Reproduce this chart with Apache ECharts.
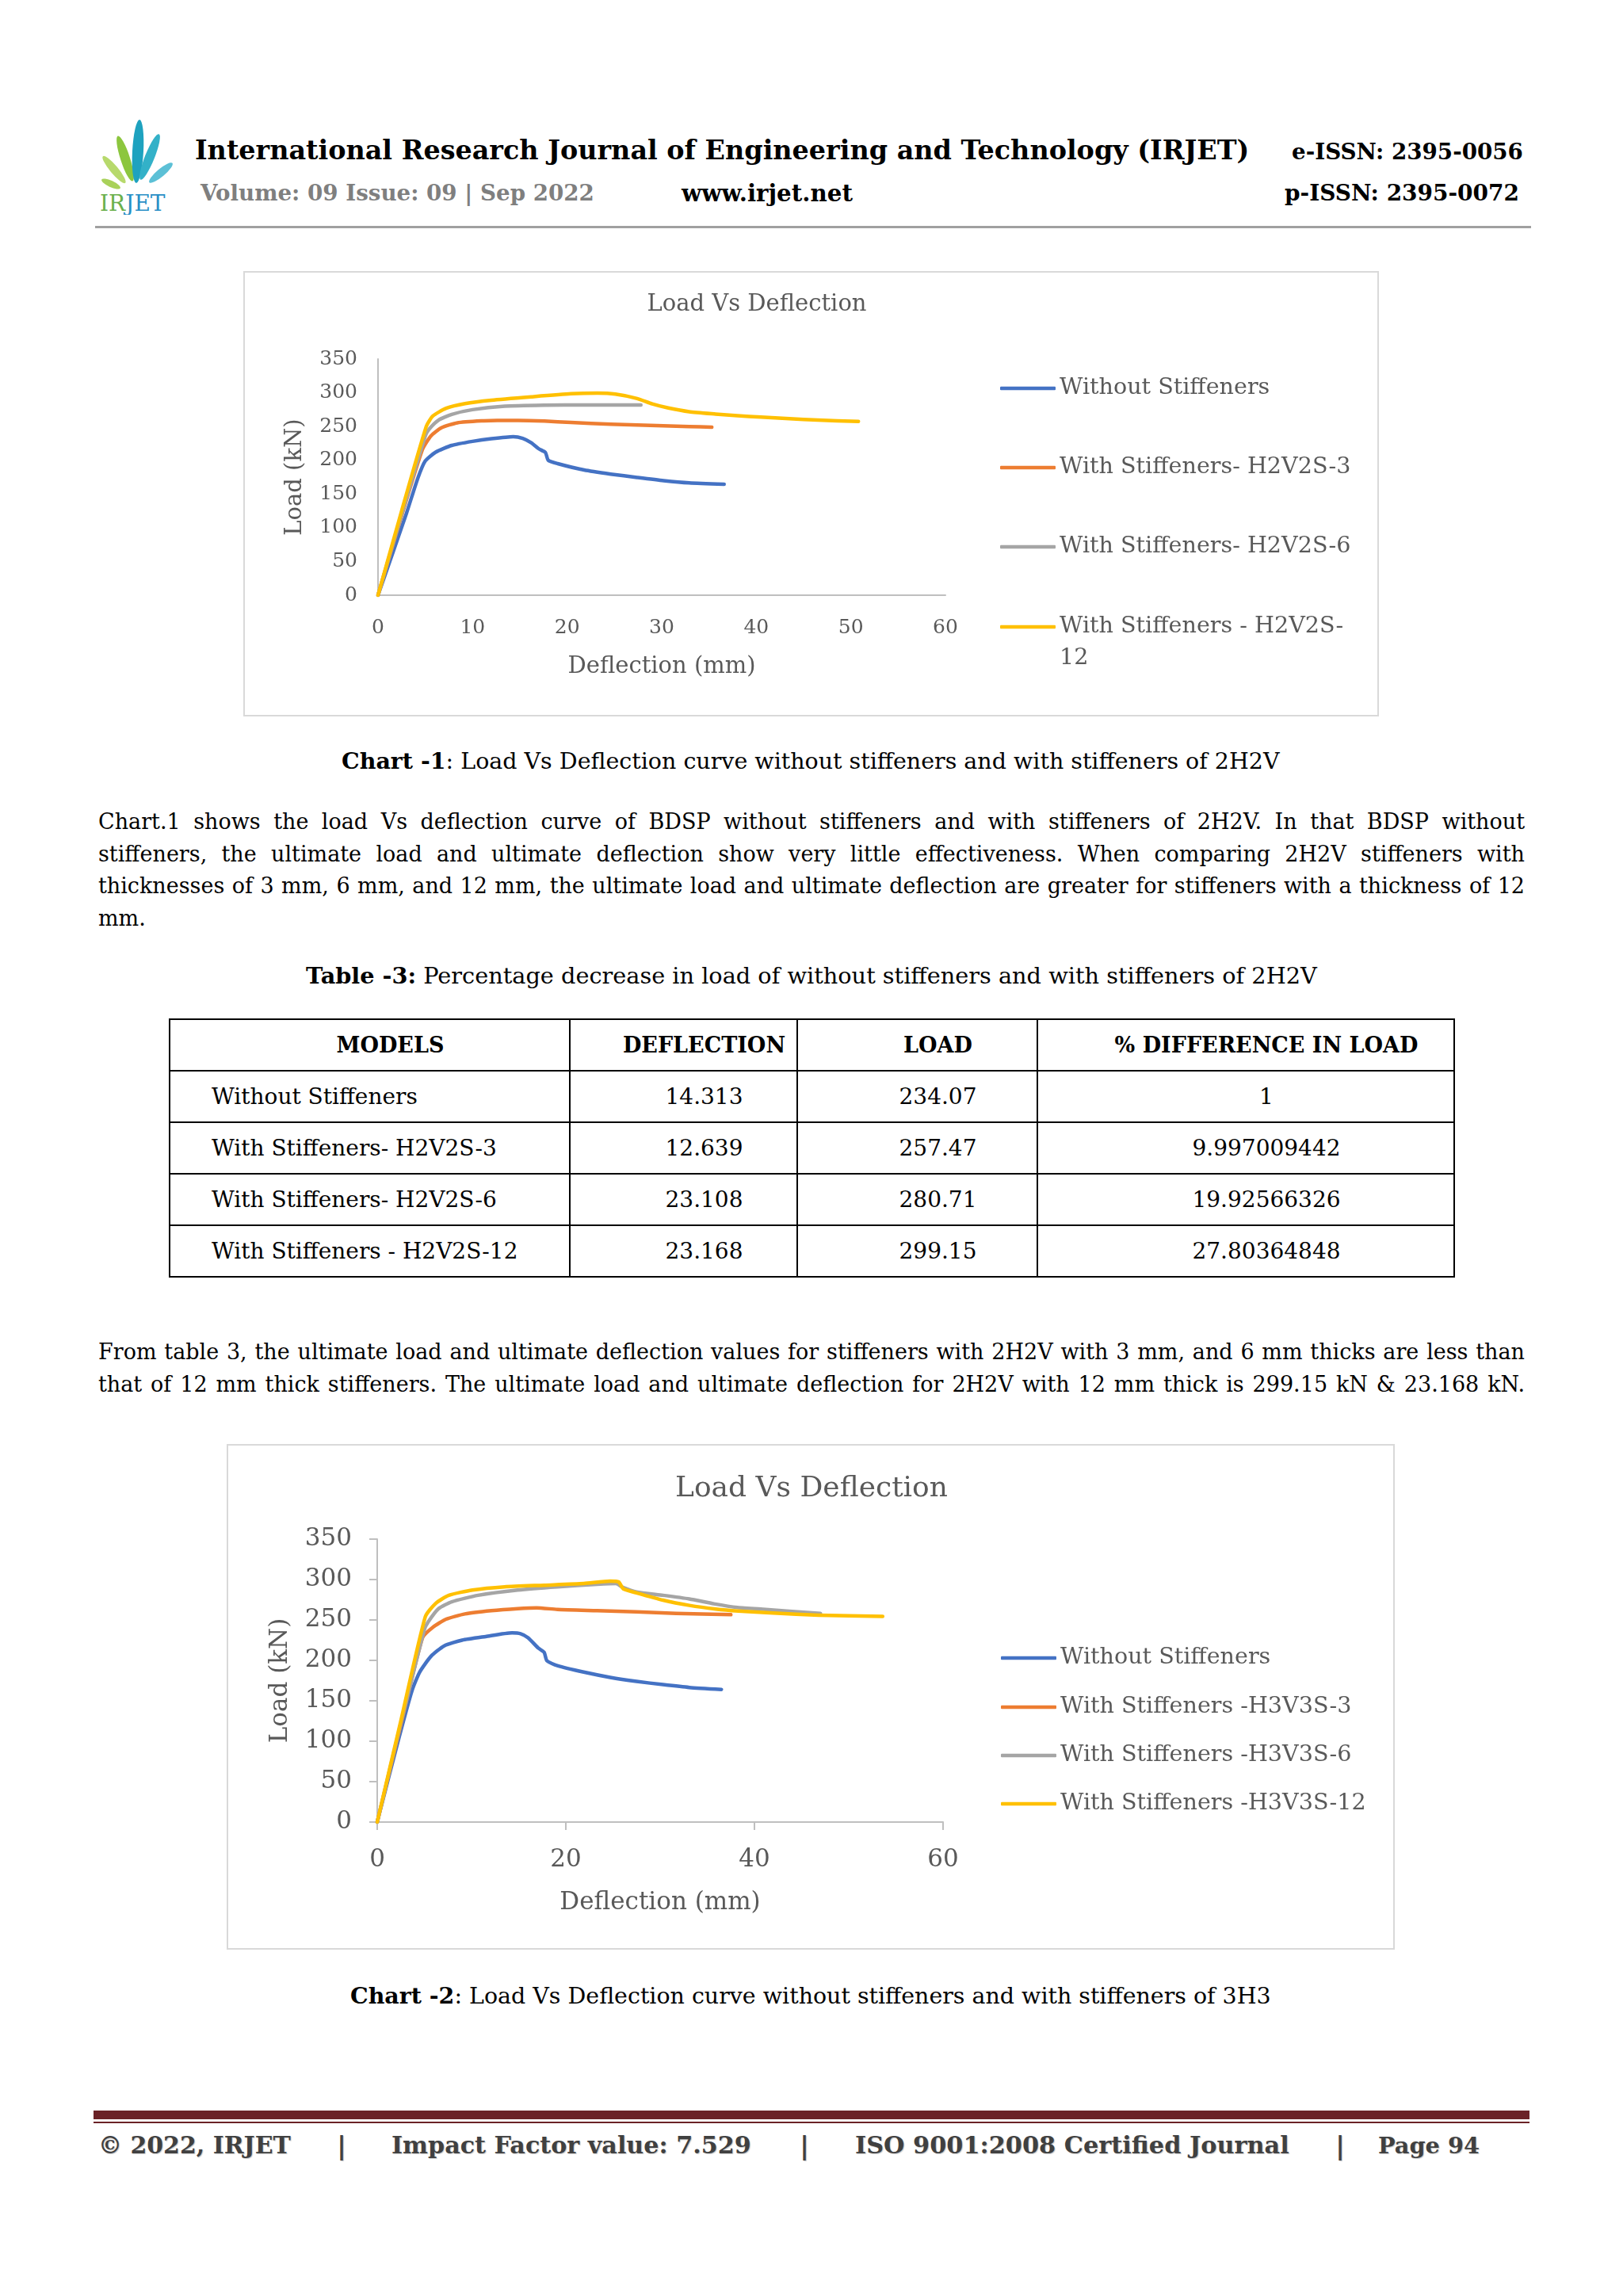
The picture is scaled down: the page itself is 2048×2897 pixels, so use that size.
<!DOCTYPE html>
<html>
<head>
<meta charset="utf-8">
<title>Load Vs Deflection</title>
<script src="https://cdn.jsdelivr.net/npm/echarts@6/dist/echarts.min.js"></script>
<style>
html,body{margin:0;padding:0;background:#fff;}
#page{position:relative;width:2048px;height:2897px;overflow:hidden;font-family:'DejaVu Serif',serif;color:#000;background:#fff;}
.t{position:absolute;white-space:nowrap;line-height:1.2;transform:translateY(-50%);}
.chart{position:absolute;outline:2px solid #d9d9d9;outline-offset:-2px;}
#tbl{position:absolute;left:213px;top:1285px;border-collapse:collapse;font-size:28px;table-layout:fixed;}
#tbl td,#tbl th{border:2px solid #000;padding:0 0 0 52px;white-space:nowrap;}
#tbl tr{height:65px;}
#tbl th{font-weight:bold;text-align:center;font-size:27px;}
#tbl td{text-align:center;}
#tbl td.m{text-align:left;}
.ft{font-weight:bold;color:#404040;text-shadow:1px 1px 1px #c8c8c8;}
</style>
</head>
<body>
<div id="page">
  <svg style="position:absolute;left:118px;top:146px;" width="110" height="125" viewBox="0 0 110 125">
    <ellipse cx="22" cy="86" rx="4" ry="13" transform="rotate(-65 22 86)" fill="#a9d15a"/>
    <ellipse cx="26" cy="68" rx="5" ry="22" transform="rotate(-40 26 68)" fill="#b7d96c"/>
    <ellipse cx="40" cy="54" rx="6" ry="30" transform="rotate(-18 40 54)" fill="#8cc63e"/>
    <ellipse cx="56" cy="45" rx="7" ry="40" transform="rotate(3 56 45)" fill="#1ea2bf"/>
    <ellipse cx="71" cy="52" rx="6" ry="31" transform="rotate(22 71 52)" fill="#33b1c8"/>
    <ellipse cx="85" cy="72" rx="5" ry="19" transform="rotate(50 85 72)" fill="#5cc0d6"/>
    <text x="8" y="120" font-family="DejaVu Serif" font-size="28"><tspan fill="#6ab04c">IR</tspan><tspan fill="#2a8fc6">JET</tspan></text>
  </svg>
  <div class="t fit" data-w="1331" style="left:246px;top:190px;font-weight:bold;font-size:34px;">International Research Journal of Engineering and Technology (IRJET)</div>
  <div class="t fit" data-w="292" style="left:1630px;top:192px;font-weight:bold;font-size:30px;">e-ISSN: 2395-0056</div>
  <div class="t fit" data-w="497" style="left:253px;top:244px;font-weight:bold;color:#7f7f7f;font-size:30px;">Volume: 09 Issue: 09 | Sep 2022</div>
  <div class="t fit" data-w="216" style="left:860px;top:244px;font-weight:bold;font-size:30px;">www.irjet.net</div>
  <div class="t fit" data-w="296" style="left:1621px;top:244px;font-weight:bold;font-size:30px;">p-ISSN: 2395-0072</div>
  <div style="position:absolute;left:120px;top:285px;width:1812px;height:3px;background:#a0a0a0;"></div>

  <div id="c1" class="chart" style="left:307px;top:342px;width:1433px;height:562px;"></div>

  <div class="t fit" data-w="1184" style="left:431px;top:961px;font-size:27px;"><b>Chart -1</b>: Load Vs Deflection curve without stiffeners and with stiffeners of 2H2V</div>

  <div class="t jl" data-w="1800" style="left:124px;top:1037px;font-size:27px;">Chart.1 shows the load Vs deflection curve of BDSP without stiffeners and with stiffeners of 2H2V. In that BDSP without</div>
  <div class="t jl" data-w="1800" style="left:124px;top:1078px;font-size:27px;">stiffeners, the ultimate load and ultimate deflection show very little effectiveness. When comparing 2H2V stiffeners with</div>
  <div class="t jl" data-w="1800" style="left:124px;top:1118px;font-size:27px;">thicknesses of 3 mm, 6 mm, and 12 mm, the ultimate load and ultimate deflection are greater for stiffeners with a thickness of 12</div>
  <div class="t" style="left:124px;top:1159px;font-size:27px;">mm.</div>

  <div class="t fit" data-w="1276" style="left:386px;top:1231px;font-size:27px;"><b>Table -3:</b> Percentage decrease in load of without stiffeners and with stiffeners of 2H2V</div>

  <table id="tbl">
    <colgroup><col style="width:505px"><col style="width:287px"><col style="width:303px"><col style="width:526px"></colgroup>
    <thead><tr id="thead"></tr></thead>
    <tbody id="tbody"></tbody>
  </table>

  <div class="t jl" data-w="1800" style="left:124px;top:1706px;font-size:27px;">From table 3, the ultimate load and ultimate deflection values for stiffeners with 2H2V with 3 mm, and 6 mm thicks are less than</div>
  <div class="t jl" data-w="1800" style="left:124px;top:1747px;font-size:27px;">that of 12 mm thick stiffeners. The ultimate load and ultimate deflection for 2H2V with 12 mm thick is 299.15 kN &amp; 23.168 kN.</div>

  <div id="c2" class="chart" style="left:286px;top:1822px;width:1474px;height:638px;"></div>

  <div class="t fit" data-w="1162" style="left:442px;top:2519px;font-size:27px;"><b>Chart -2</b>: Load Vs Deflection curve without stiffeners and with stiffeners of 3H3</div>

  <div style="position:absolute;left:118px;top:2663px;width:1812px;height:11px;background:#6b2227;"></div>
  <div style="position:absolute;left:118px;top:2677px;width:1812px;height:2px;background:#6b2227;"></div>
  <div class="t fit ft" data-w="243" style="left:124px;top:2707px;font-size:32px;">© 2022, IRJET</div>
  <div class="t ft" style="left:431px;top:2707px;font-size:32px;transform:translate(-50%,-50%);">|</div>
  <div class="t fit ft" data-w="454" style="left:494px;top:2707px;font-size:32px;">Impact Factor value: 7.529</div>
  <div class="t ft" style="left:1015px;top:2707px;font-size:32px;transform:translate(-50%,-50%);">|</div>
  <div class="t fit ft" data-w="548" style="left:1079px;top:2707px;font-size:32px;">ISO 9001:2008 Certified Journal</div>
  <div class="t ft" style="left:1691px;top:2707px;font-size:32px;transform:translate(-50%,-50%);">|</div>
  <div class="t fit ft" data-w="128" style="left:1739px;top:2707px;font-size:32px;">Page 94</div>
</div>

<script>
// ---------------- DATA ----------------
const chartTitle = 'Load Vs Deflection';
const xAxisName = 'Deflection (mm)';
const yAxisName = 'Load (kN)';
const yTicks = [0, 50, 100, 150, 200, 250, 300, 350];
const xTicks1 = [0, 10, 20, 30, 40, 50, 60];
const xTicks2 = [0, 20, 40, 60];

const names1 = ['Without Stiffeners', 'With Stiffeners- H2V2S-3', 'With Stiffeners- H2V2S-6', 'With Stiffeners - H2V2S-12'];
const names2 = ['Without Stiffeners', 'With Stiffeners -H3V3S-3', 'With Stiffeners -H3V3S-6', 'With Stiffeners -H3V3S-12'];

// Chart 1 (2H2V): [deflection mm, load kN]
const c1Without = [[0,0],[3.0,121],[4.2,173],[5.0,199],[6.1,212],[7.8,222],[10.0,228],[12.0,232],[14.3,235],[15.3,232.5],[16.2,226],[17.0,217],[17.7,211.5],[18.0,200],[19.0,195],[21.8,185.5],[24.6,179.5],[27.4,174.5],[30.2,169.8],[32.9,166.5],[36.6,164.5]];
const c1S3 = [[0,0],[2.5,118],[4.7,216],[5.6,236],[6.7,248],[8.4,255.5],[11.2,258.5],[12.6,259],[14.8,259],[17.6,258],[20.4,256],[24.6,253.5],[28.8,251.5],[32.9,250],[35.3,249]];
const c1S6 = [[0,0],[2.5,120],[5.0,236],[5.4,246],[6.4,259.5],[7.8,268],[10.0,275],[13.4,280],[17.6,281.5],[21.8,282],[23.1,282],[27.8,282]];
const c1S12 = [[0,0],[2.5,125],[5.1,250],[5.8,265.5],[7.2,277],[9.2,284],[12.0,289],[16.2,294],[20.4,298.5],[23.2,299.5],[25.1,298],[27.4,291.5],[29.0,283.5],[30.7,277.5],[32.9,272],[35.7,268.5],[38.0,266],[40.5,264],[43.5,261.5],[46.5,259.5],[50.8,257.5]];

// Chart 2 (3H3V): [deflection mm, load kN]
const c2Without = [[0,0],[2.3,104],[3.7,163],[4.5,185.5],[5.7,205],[7.1,218],[9.0,225],[11.5,229.5],[14.3,234],[15.2,233],[16.0,228],[17.1,215],[17.7,210],[18.0,199.5],[19.1,193.5],[21.9,185.5],[24.7,179],[27.5,174],[30.3,170],[33.1,166.5],[36.5,164]];
const c2S3 = [[0,0],[2.5,120],[4.8,228],[5.9,241],[7.3,251],[9.3,257.5],[12.1,261.5],[14.9,264],[16.9,265],[19.1,263],[23.3,261.5],[27.5,260],[31.7,258],[37.5,256.5]];
const c2S6 = [[0,0],[2.5,122],[5.0,238],[5.4,247.5],[6.5,264],[7.9,272.5],[10.7,280.5],[14.9,287],[19.1,291],[23.3,294],[25.3,295],[26.0,290.5],[27.5,284.5],[30.3,280.5],[33.1,276],[35.7,270],[38.2,265.5],[41.2,263],[47.0,258]];
const c2S12 = [[0,0],[2.5,125],[5.1,254],[6.2,270.5],[7.6,280.5],[10.1,287],[13.5,291],[17.7,293],[21.9,295],[24.7,298],[25.6,297],[26.1,288.5],[27.5,283.5],[30.3,274.5],[33.1,268],[35.9,263.5],[38.3,261],[42.0,258.5],[46.8,256],[53.6,254.5]];

// Table 3
const tableHeader = ['MODELS', 'DEFLECTION', 'LOAD', '% DIFFERENCE IN LOAD'];
const tableModels = ['Without Stiffeners', 'With Stiffeners- H2V2S-3', 'With Stiffeners- H2V2S-6', 'With Stiffeners - H2V2S-12'];
const tableDeflection = ['14.313', '12.639', '23.108', '23.168'];
const tableLoad = ['234.07', '257.47', '280.71', '299.15'];
const tableDiff = ['1', '9.997009442', '19.92566326', '27.80364848'];

// ---------------- TABLE ----------------
(function(){
  const th = document.getElementById('thead');
  tableHeader.forEach(h => { const c = document.createElement('th'); c.textContent = h; th.appendChild(c); });
  const tb = document.getElementById('tbody');
  tableModels.forEach((m, i) => {
    const tr = document.createElement('tr');
    [m, tableDeflection[i], tableLoad[i], tableDiff[i]].forEach((v, j) => {
      const td = document.createElement('td'); td.textContent = v; if (j === 0) td.className = 'm'; tr.appendChild(td);
    });
    tb.appendChild(tr);
  });
})();

// ---------------- TEXT FITTING ----------------
function fitTexts(){
  document.querySelectorAll('.fit').forEach(el => {
    const target = parseFloat(el.dataset.w);
    const w = el.getBoundingClientRect().width;
    const fs = parseFloat(getComputedStyle(el).fontSize);
    el.style.fontSize = (fs * target / w) + 'px';
  });
  document.querySelectorAll('.jl').forEach(el => {
    const target = parseFloat(el.dataset.w);
    const w = el.getBoundingClientRect().width;
    const n = (el.textContent.match(/ /g) || []).length;
    el.style.wordSpacing = ((target - w) / n) + 'px';
  });
}
fitTexts();

// ---------------- CHARTS ----------------
const FONT = 'DejaVu Serif';
const GRAY = '#595959';
const AXIS_COLOR = '#bfbfbf';
const palette = ['#4472C4', '#ED7D31', '#A5A5A5', '#FFC000'];

function axis(ticks, o){
  return {
    type: 'value',
    min: ticks[0], max: ticks[ticks.length - 1], interval: ticks[1] - ticks[0],
    name: o.name, nameLocation: 'middle', nameGap: o.nameGap,
    nameTextStyle: { fontFamily: FONT, fontSize: o.nameSize, color: GRAY },
    axisLine: { show: true, lineStyle: { color: AXIS_COLOR, width: 2 } },
    axisTick: { show: o.ticks, length: 10, lineStyle: { color: AXIS_COLOR, width: 2 } },
    splitLine: { show: false },
    axisLabel: { fontFamily: FONT, fontSize: o.labelSize, color: GRAY, margin: o.labelMargin }
  };
}

function seriesOf(names, sets){
  return names.map((n, i) => ({
    type: 'line', name: n, data: sets[i], symbol: 'none', showSymbol: false,
    smooth: 0.2, z: 2 + i,
    lineStyle: { width: 4.5, color: palette[i], cap: 'round', join: 'round' },
    itemStyle: { color: palette[i] }
  }));
}

function legendsOf(names, left, centers, wrapLast){
  return names.map((n, i) => {
    const lg = {
      orient: 'vertical', left: left, top: centers[i] - 18, data: [n], padding: 0,
      icon: 'roundRect', itemWidth: 70, itemHeight: 4.5, selectedMode: false,
      textStyle: { fontFamily: FONT, fontSize: 28.6, color: GRAY, lineHeight: 36 }
    };
    if (wrapLast && i === names.length - 1) {
      lg.top = centers[i] - 60;
      lg.textStyle.lineHeight = 40;
      lg.formatter = s => '\u00a0\n' + s.replace(/-(\d+)$/, '-\n$1');
    }
    return lg;
  });
}

function buildOption(cfg){
  return {
    animation: false,
    textStyle: { fontFamily: FONT },
    graphic: [{
      type: 'text', x: cfg.titleX, y: cfg.titleY,
      style: { text: chartTitle, fill: GRAY, fontFamily: FONT, fontSize: cfg.titleSize, align: 'center', verticalAlign: 'middle' }
    }],
    grid: { left: cfg.grid[0], top: cfg.grid[1], width: cfg.grid[2], height: cfg.grid[3], containLabel: false, outerBoundsMode: 'none' },
    xAxis: axis(cfg.xTicks, { name: xAxisName, nameGap: cfg.xNameGap, nameSize: cfg.nameSize, labelSize: cfg.labelSize, labelMargin: cfg.xLabelMargin, ticks: cfg.ticks }),
    yAxis: axis(yTicks, { name: yAxisName, nameGap: cfg.yNameGap, nameSize: cfg.nameSize, labelSize: cfg.labelSize, labelMargin: cfg.yLabelMargin, ticks: cfg.ticks }),
    legend: legendsOf(cfg.names, cfg.legendLeft, cfg.legendCenters, cfg.wrapLast),
    series: seriesOf(cfg.names, cfg.sets)
  };
}

const chart1 = echarts.init(document.getElementById('c1'), null, { renderer: 'canvas' });
chart1.setOption(buildOption({
  titleX: 648, titleY: 42, titleSize: 29,
  grid: [170, 111, 716, 298],
  xTicks: xTicks1, xNameGap: 76, yNameGap: 90, nameSize: 29, labelSize: 25,
  xLabelMargin: 29, yLabelMargin: 26, ticks: false,
  names: names1, sets: [c1Without, c1S3, c1S6, c1S12],
  legendLeft: 955, legendCenters: [148, 248, 348, 449], wrapLast: true
}));

const chart2 = echarts.init(document.getElementById('c2'), null, { renderer: 'canvas' });
chart2.setOption(buildOption({
  titleX: 738, titleY: 57, titleSize: 36,
  grid: [190, 120, 714, 357],
  xTicks: xTicks2, xNameGap: 86, yNameGap: 107, nameSize: 31, labelSize: 31,
  xLabelMargin: 32, yLabelMargin: 32, ticks: true,
  names: names2, sets: [c2Without, c2S3, c2S6, c2S12],
  legendLeft: 977, legendCenters: [270, 332, 393, 454], wrapLast: false
}));
</script>
</body>
</html>
